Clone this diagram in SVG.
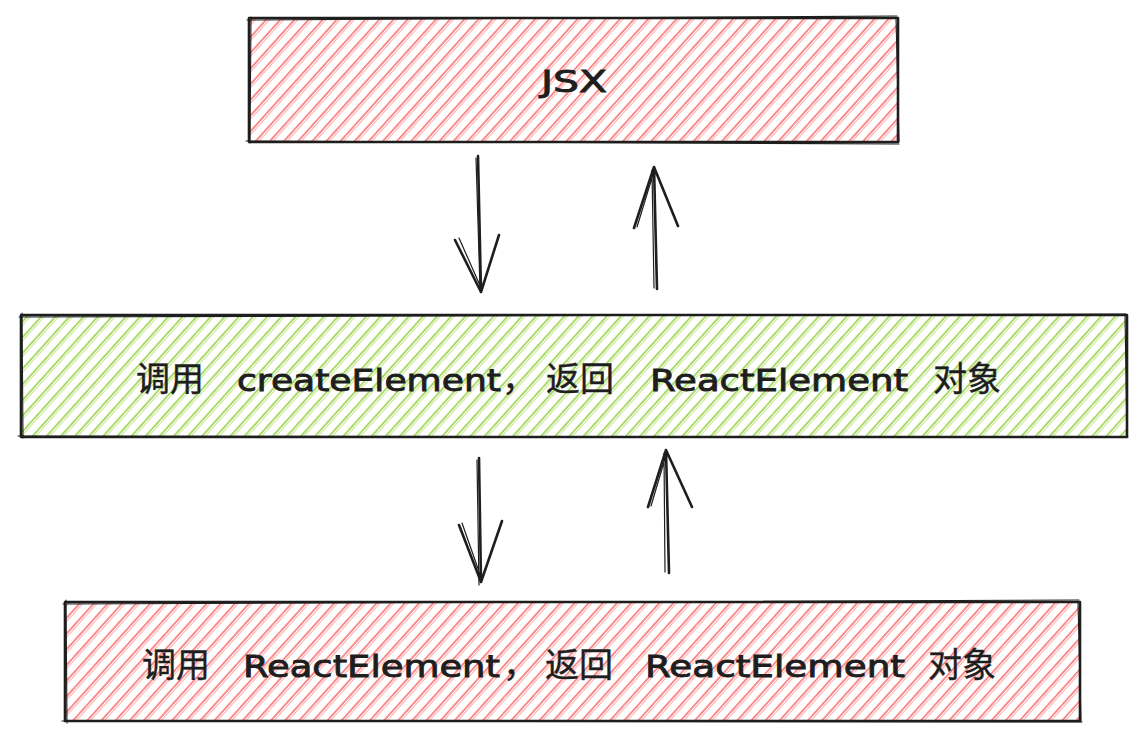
<svg xmlns="http://www.w3.org/2000/svg" width="1145" height="743" viewBox="0 0 1145 743">
  <defs>
    <pattern id="hatchRed" width="10.5" height="10.5" patternUnits="userSpaceOnUse" patternTransform="rotate(42)">
      <line x1="1" y1="0" x2="1" y2="10.5" stroke="#fa5252" stroke-width="1.3"/>
      <line x1="3.4" y1="0" x2="3.4" y2="10.5" stroke="#fa5252" stroke-width="0.8" stroke-opacity="0.6"/>
    </pattern>
    <pattern id="hatchGreen" width="10.5" height="10.5" patternUnits="userSpaceOnUse" patternTransform="rotate(42)">
      <line x1="1" y1="0" x2="1" y2="10.5" stroke="#82c91e" stroke-width="1.3"/>
      <line x1="3.4" y1="0" x2="3.4" y2="10.5" stroke="#82c91e" stroke-width="0.8" stroke-opacity="0.6"/>
    </pattern>
  </defs>
  <style>
    .box { stroke: #1e1e1e; stroke-width: 2.6; stroke-linejoin: round; }
    .sk { fill: none; stroke: #1e1e1e; stroke-width: 1.1; stroke-linecap: round; }
    .arrow { fill: none; stroke: #1e1e1e; stroke-width: 2.6; stroke-linecap: round; stroke-linejoin: round; }
    .arrow2 { fill: none; stroke: #1e1e1e; stroke-width: 1.2; stroke-linecap: round; }
    .cjk { font-family: "Noto Sans CJK SC", "Noto Sans", sans-serif; font-size: 34px; fill: #1e1e1e; stroke: #1e1e1e; stroke-width: 0.4; }
    .lat { font-family: "DejaVu Sans", "Liberation Sans", sans-serif; font-size: 31px; fill: #1e1e1e; stroke: #1e1e1e; stroke-width: 0.9; }
  </style>
  <rect width="1145" height="743" fill="#ffffff"/>

  <g id="node-jsx">
    <rect class="box" x="249" y="18" width="649" height="124" fill="url(#hatchRed)"/>
    <path class="sk" d="M247 20 L897 16 M251 17 L250 143 M246 141 L899 144 M896 18 L899 142"/>
    <text class="lat" x="574" y="92" text-anchor="middle" textLength="66" lengthAdjust="spacingAndGlyphs">JSX</text>
  </g>

  <g id="node-create">
    <rect class="box" x="21" y="315" width="1106" height="122" fill="url(#hatchGreen)"/>
    <path class="sk" d="M19 317 L1126 314 M22 313 L23 438 M18 436 L1128 437 M1125 316 L1127 436"/>
    <text y="391">
      <tspan class="cjk" x="136">调用</tspan>
      <tspan class="lat" x="237" textLength="264" lengthAdjust="spacingAndGlyphs">createElement</tspan>
      <tspan class="cjk" x="502">，</tspan>
      <tspan class="cjk" x="546">返回</tspan>
      <tspan class="lat" x="650" textLength="258" lengthAdjust="spacingAndGlyphs">ReactElement</tspan>
      <tspan class="cjk" x="933">对象</tspan>
    </text>
  </g>

  <g id="node-react">
    <rect class="box" x="65" y="602" width="1015" height="119" fill="url(#hatchRed)"/>
    <path class="sk" d="M63 604 L1079 600 M66 600 L67 723 M62 721 L1082 722 M1078 603 L1081 721"/>
    <text y="677">
      <tspan class="cjk" x="142">调用</tspan>
      <tspan class="lat" x="243" textLength="257" lengthAdjust="spacingAndGlyphs">ReactElement</tspan>
      <tspan class="cjk" x="503">，</tspan>
      <tspan class="cjk" x="545">返回</tspan>
      <tspan class="lat" x="645" textLength="260" lengthAdjust="spacingAndGlyphs">ReactElement</tspan>
      <tspan class="cjk" x="928">对象</tspan>
    </text>
  </g>

  <g id="connectors">
    <!-- JSX -> createElement (down) -->
    <path class="arrow" d="M478 156 L481 292 M455 240 L481 292 M499 235 L481 292"/>
    <path class="arrow2" d="M476 158 L480 288 M459 238 L482 290"/>
    <!-- createElement -> JSX (up) -->
    <path class="arrow" d="M657 289 L654 167 M634 228 L654 167 M678 226 L654 167"/>
    <path class="arrow2" d="M654 288 L652 170 M637 227 L655 168"/>
    <!-- createElement -> ReactElement (down) -->
    <path class="arrow" d="M479 458 L481 582 M459 525 L481 582 M502 521 L481 582"/>
    <path class="arrow2" d="M477 460 L479 585 M462 523 L482 580"/>
    <!-- ReactElement -> createElement (up) -->
    <path class="arrow" d="M669 573 L666 450 M648 507 L666 450 M692 507 L666 450"/>
    <path class="arrow2" d="M665 572 L664 453 M651 506 L667 452"/>
  </g>
</svg>
